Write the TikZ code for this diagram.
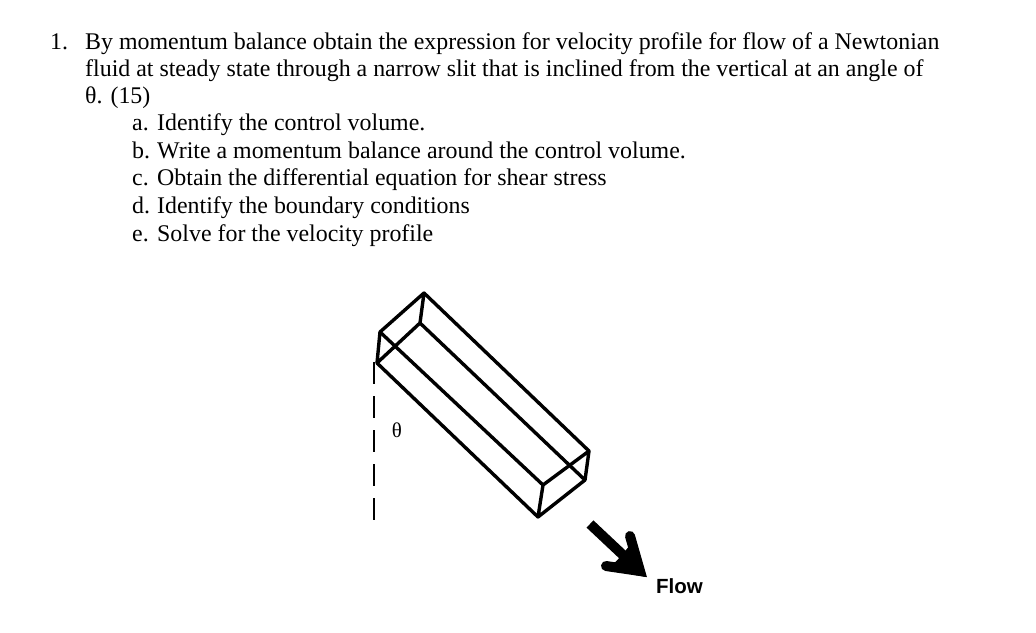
\documentclass[tikz,border=0pt]{standalone}
\usepackage{fontspec}
\setmainfont{Liberation Serif}
\newfontfamily\flowfont{Liberation Sans}
\begin{document}
\begin{tikzpicture}[x=1pt,y=-1pt,
  txt/.style={anchor=base west,inner sep=0pt,font=\fontsize{23.9}{26}\selectfont},
  edge/.style={line width=3.4pt,line cap=round}]
\useasboundingbox[fill=white] (0,0) rectangle (1036,632);
\node[txt] (n1) at (50,49) {1.};
\node[txt] (l1) at (85,49) {By momentum balance obtain the expression for velocity profile for flow of a Newtonian};
\node[txt] (l2) at (85,76) {fluid at steady state through a narrow slit that is inclined from the vertical at an angle of};
\node[txt] (l3) at (85,103) {θ. (15)};
\foreach \l/\t [count=\i] in {a./Identify the control volume.,b./Write a momentum balance around the control volume.,c./Obtain the differential equation for shear stress,d./Identify the boundary conditions,e./Solve for the velocity profile}{
  \node[txt] (it\i) at (132,{103+27.6*\i}) {\l};
  \node[txt] (tx\i) at (157,{103+27.6*\i}) {\t};
}
% box
\coordinate (A) at (424,293); \coordinate (B) at (380,332);
\coordinate (C) at (377,363); \coordinate (D) at (420,323);
\coordinate (A2) at (589,451); \coordinate (B2) at (543,485);
\coordinate (C2) at (538,517); \coordinate (D2) at (585,480);
\draw[edge] (A)--(B) (B)--(C) (C)--(D) (D)--(A);
\draw[edge] (A2)--(B2) (B2)--(C2) (C2)--(D2) (D2)--(A2);
\draw[edge] (A)--(A2) (B)--(B2) (C)--(C2) (D)--(D2);
\coordinate (V1) at (374,362); \coordinate (V2) at (374,525);
\draw[line width=1.8pt,dash pattern=on 22pt off 12pt] (V1)--(V2);
\node[font=\fontsize{21}{24}\selectfont] (th) at (397,430) {θ};
\coordinate (F1) at (590,524); \coordinate (F2) at (640,571);
\draw[line width=10pt] (F1)--(F2);
\fill (646,577) -- (608,570) -- (622,555) -- (634,540) -- cycle;
\draw[line width=10pt,line cap=round] (606,566)--(640,571)--(630,536);
\node[font=\flowfont\bfseries\fontsize{20.5}{24}\selectfont,anchor=base west,inner sep=0] (fl) at (656,593) {Flow};
\end{tikzpicture}
\end{document}
